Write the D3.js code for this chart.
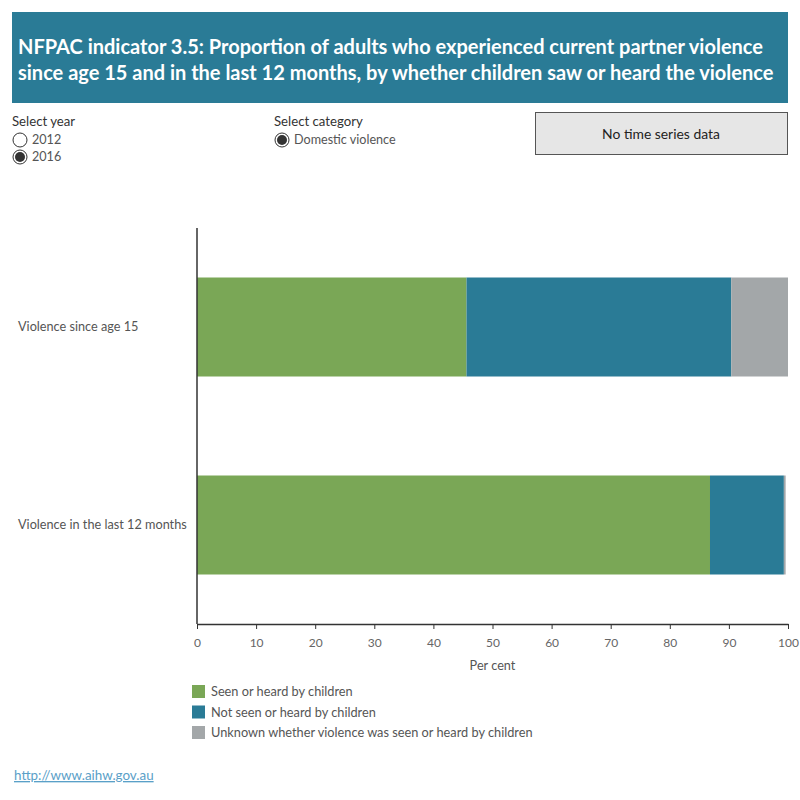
<!DOCTYPE html>
<html><head><meta charset="utf-8">
<script src="https://cdn.jsdelivr.net/npm/d3@7"></script>
<style>
body{margin:0;background:#fff;}
svg{display:block;font-family:Lato,"Open Sans",sans-serif;}
</style></head>
<body><svg id="c" width="800" height="800"></svg>
<script>
const categories = ["Violence since age 15", "Violence in the last 12 months"];
const seriesNames = ["Seen or heard by children", "Not seen or heard by children", "Unknown whether violence was seen or heard by children"];
const seen = [45.6, 86.8];
const notSeen = [44.8, 12.5];
const unknown = [9.6, 0.3];
const xTicks = [0,10,20,30,40,50,60,70,80,90,100];
const colors = ["#7aa756", "#2a7b96", "#a3a7a9"];

const svg = d3.select("#c");
// Title banner
svg.append("rect").attr("x",12).attr("y",12).attr("width",776).attr("height",91).attr("fill","#2a7b96");
const titleLines = ["NFPAC indicator 3.5: Proportion of adults who experienced current partner violence",
  "since age 15 and in the last 12 months, by whether children saw or heard the violence"];
titleLines.forEach((t,i)=>{
  svg.append("text").attr("x",18).attr("y",54+i*26).attr("fill","#fff")
    .attr("font-size",20).attr("font-weight","bold").text(t);
});

// Controls
const ctl = svg.append("g").attr("font-size",13.2).attr("fill","#333");
ctl.append("text").attr("x",12).attr("y",126).text("Select year");
[["2012",false,140],["2016",true,157]].forEach(([l,sel,y])=>{
  ctl.append("circle").attr("cx",20).attr("cy",y).attr("r",7).attr("fill","#fff").attr("stroke","#333").attr("stroke-width",1);
  if(sel) ctl.append("circle").attr("cx",20).attr("cy",y).attr("r",5).attr("fill","#333");
  ctl.append("text").attr("x",32).attr("y",y+4).attr("fill","#555").attr("font-size",12.6).text(l);
});
ctl.append("text").attr("x",274).attr("y",126).text("Select category");
ctl.append("circle").attr("cx",282).attr("cy",140).attr("r",7).attr("fill","#fff").attr("stroke","#333");
ctl.append("circle").attr("cx",282).attr("cy",140).attr("r",5).attr("fill","#333");
ctl.append("text").attr("x",294).attr("y",144).attr("fill","#555").attr("font-size",12.6).text("Domestic violence");
svg.append("rect").attr("x",535.5).attr("y",112.5).attr("width",252).attr("height",42).attr("fill","#e6e6e6").attr("stroke","#555");
svg.append("text").attr("x",661).attr("y",139).attr("text-anchor","middle").attr("font-size",13.9).attr("fill","#222").text("No time series data");

// Chart
const x0 = 197, x1 = 788, yTop = 228, yBot = 624;
const x = d3.scaleLinear().domain([0,100]).range([x0,x1]);
const y = d3.scaleBand().domain(categories).range([yTop,yBot]).paddingInner(0.5).paddingOuter(0.25);

const rows = categories.map((c,i)=>({cat:c, vals:[seen[i],notSeen[i],unknown[i]]}));
const stack = d3.stack().keys([0,1,2]).value((d,k)=>d.vals[k]);
const layers = stack(rows);
layers.forEach((layer,k)=>{
  svg.append("g").selectAll("rect").data(layer).join("rect")
    .attr("x",d=>x(d[0])).attr("width",d=>x(d[1])-x(d[0]))
    .attr("y",d=>y(d.data.cat)).attr("height",y.bandwidth())
    .attr("fill",colors[k]);
});

// category labels
svg.append("g").selectAll("text").data(categories).join("text")
  .attr("x",18).attr("y",d=>y(d)+y.bandwidth()/2+4)
  .attr("font-size",12.7).attr("fill","#555").text(d=>d);

// axes
const xAxis = d3.axisBottom(x).tickValues(xTicks).tickSize(5).tickPadding(9).tickSizeOuter(0);
const gx = svg.append("g").attr("transform",`translate(0,${yBot})`).call(xAxis);
gx.select(".domain").attr("stroke","#333").attr("stroke-width",1.5);
gx.selectAll(".tick line").attr("stroke","#333");
gx.selectAll(".tick text").attr("font-size",12).attr("fill","#666").attr("font-family","Lato,sans-serif");
svg.append("line").attr("x1",x0).attr("x2",x0).attr("y1",yTop).attr("y2",yBot).attr("stroke","#333").attr("stroke-width",1.5);
svg.append("text").attr("x",(x0+x1)/2).attr("y",670).attr("text-anchor","middle").attr("font-size",12.7).attr("fill","#555").text("Per cent");

// legend
const lg = svg.append("g");
seriesNames.forEach((s,i)=>{
  lg.append("rect").attr("x",192).attr("y",685+i*20.5).attr("width",13).attr("height",13).attr("fill",colors[i]);
  lg.append("text").attr("x",211).attr("y",696+i*20.5).attr("font-size",12.75).attr("fill","#555").text(s);
});

// link
svg.append("text").attr("x",14).attr("y",780).attr("font-size",13.4).attr("fill","#5aa0c8")
  .attr("text-decoration","underline").text("http://www.aihw.gov.au");
</script></body></html>
